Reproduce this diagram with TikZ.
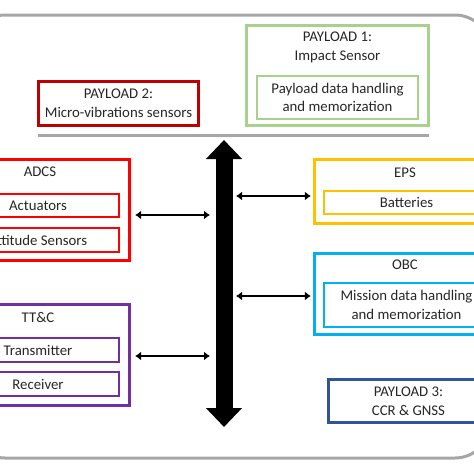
\documentclass[tikz,border=0pt]{standalone}
\usepackage{fontspec}
\setmainfont{Carlito}
\usetikzlibrary{arrows.meta,positioning}

\definecolor{frameGray}{RGB}{166,166,166}
\definecolor{payOneGreen}{RGB}{169,209,142}
\definecolor{payTwoRed}{RGB}{192,0,0}
\definecolor{adcsRed}{RGB}{255,0,0}
\definecolor{epsYellow}{RGB}{255,192,0}
\definecolor{obcBlue}{RGB}{0,176,240}
\definecolor{ttcPurple}{RGB}{112,48,160}
\definecolor{payThreeBlue}{RGB}{47,85,151}

\tikzset{outer box/.style={rectangle,draw=#1,line width=3.2pt,inner sep=0pt,align=center},
inner box/.style={rectangle,draw=#1,line width=2pt,inner sep=0pt,align=center},
title/.style={inner sep=0pt,align=center},
link/.style={line width=2.6pt,{Latex[length=6pt,width=9pt]}-{Latex[length=6pt,width=9pt]}}}

\begin{document}
\begin{tikzpicture}[x=1pt,y=-1pt,font=\fontsize{14.8}{18.5}\selectfont,text=black!85,
                    bus/.style={line width=17pt,{Triangle[width=35pt,length=19pt]}-{Triangle[width=35pt,length=19pt]}}]

\useasboundingbox (0,0) rectangle (474,474);
\clip (0,0) rectangle (474,474);

%Frame and payload line

 \draw[frameGray,line width=3pt,rounded corners=35pt] (-30,15) rectangle (490,458);
 \draw[frameGray,line width=3pt] (38,135)--(429,135);

%Payloads

  \node[outer box=payOneGreen,minimum width=182,minimum height=100] (PayOne) at (337.5,75.5) {};
  \node[title] (PayOneTitle) at (337.5,47.5) {PAYLOAD 1:\\Impact Sensor};
  \node[inner box=payOneGreen,minimum width=161,minimum height=43] (PayOneData) at (337.5,97.5) {Payload data handling\\and memorization};

  \node[outer box=payTwoRed,minimum width=160,minimum height=44] (PayTwo) at (118.5,103.5) {PAYLOAD 2:\\Micro-vibrations sensors};

  \node[outer box=payThreeBlue,minimum width=160,minimum height=43] (PayThree) at (408.5,401) {PAYLOAD 3:\\CCR \& GNSS};

%Subsystems

  \node[outer box=adcsRed,minimum width=168,minimum height=101] (ADCS) at (45.5,210) {};
  \node[title] (ADCSTitle) at (40,172) {ADCS};
  \node[inner box=adcsRed,minimum width=162,minimum height=23] (Actuators) at (38,205.5) {Actuators};
  \node[inner box=adcsRed,minimum width=162,minimum height=24] (AttSensors) at (38,240) {Attitude Sensors};

  \node[outer box=ttcPurple,minimum width=168,minimum height=101] (TTC) at (45.5,355) {};
  \node[title] (TTCTitle) at (38,317) {TT\&C};
  \node[inner box=ttcPurple,minimum width=162,minimum height=24] (Transmitter) at (38,350) {Transmitter};
  \node[inner box=ttcPurple,minimum width=162,minimum height=24] (Receiver) at (38,384) {Receiver};

  \node[outer box=epsYellow,minimum width=184,minimum height=64] (EPS) at (406.5,191.5) {};
  \node[title] (EPSTitle) at (405,173) {EPS};
  \node[inner box=epsYellow,minimum width=165,minimum height=23] (Batteries) at (406.5,202.5) {Batteries};

  \node[outer box=obcBlue,minimum width=184,minimum height=81] (OBC) at (406.5,294) {};
  \node[title] (OBCTitle) at (405,265) {OBC};
  \node[inner box=obcBlue,minimum width=165,minimum height=44] (MissionData) at (406.5,305) {Mission data handling\\and memorization};

%Bus and links

  \coordinate (BusTop) at (224,140);
  \coordinate (BusBottom) at (224,427);
  \draw[bus] (BusBottom)--(BusTop);

  \draw[link] ([xshift=4pt,yshift=-5pt]ADCS.east)--([xshift=-14pt,yshift=-5pt]ADCS.east -| BusTop);
  \draw[link] ([xshift=4pt,yshift=-1pt]TTC.east)--([xshift=-14pt,yshift=-1pt]TTC.east -| BusTop);
  \draw[link] ([xshift=12pt,yshift=-4.5pt]EPS.west -| BusTop)--([xshift=-2pt,yshift=-4.5pt]EPS.west);
  \draw[link] ([xshift=12pt,yshift=-2pt]OBC.west -| BusTop)--([xshift=-2pt,yshift=-2pt]OBC.west);

\end{tikzpicture}
\end{document}
